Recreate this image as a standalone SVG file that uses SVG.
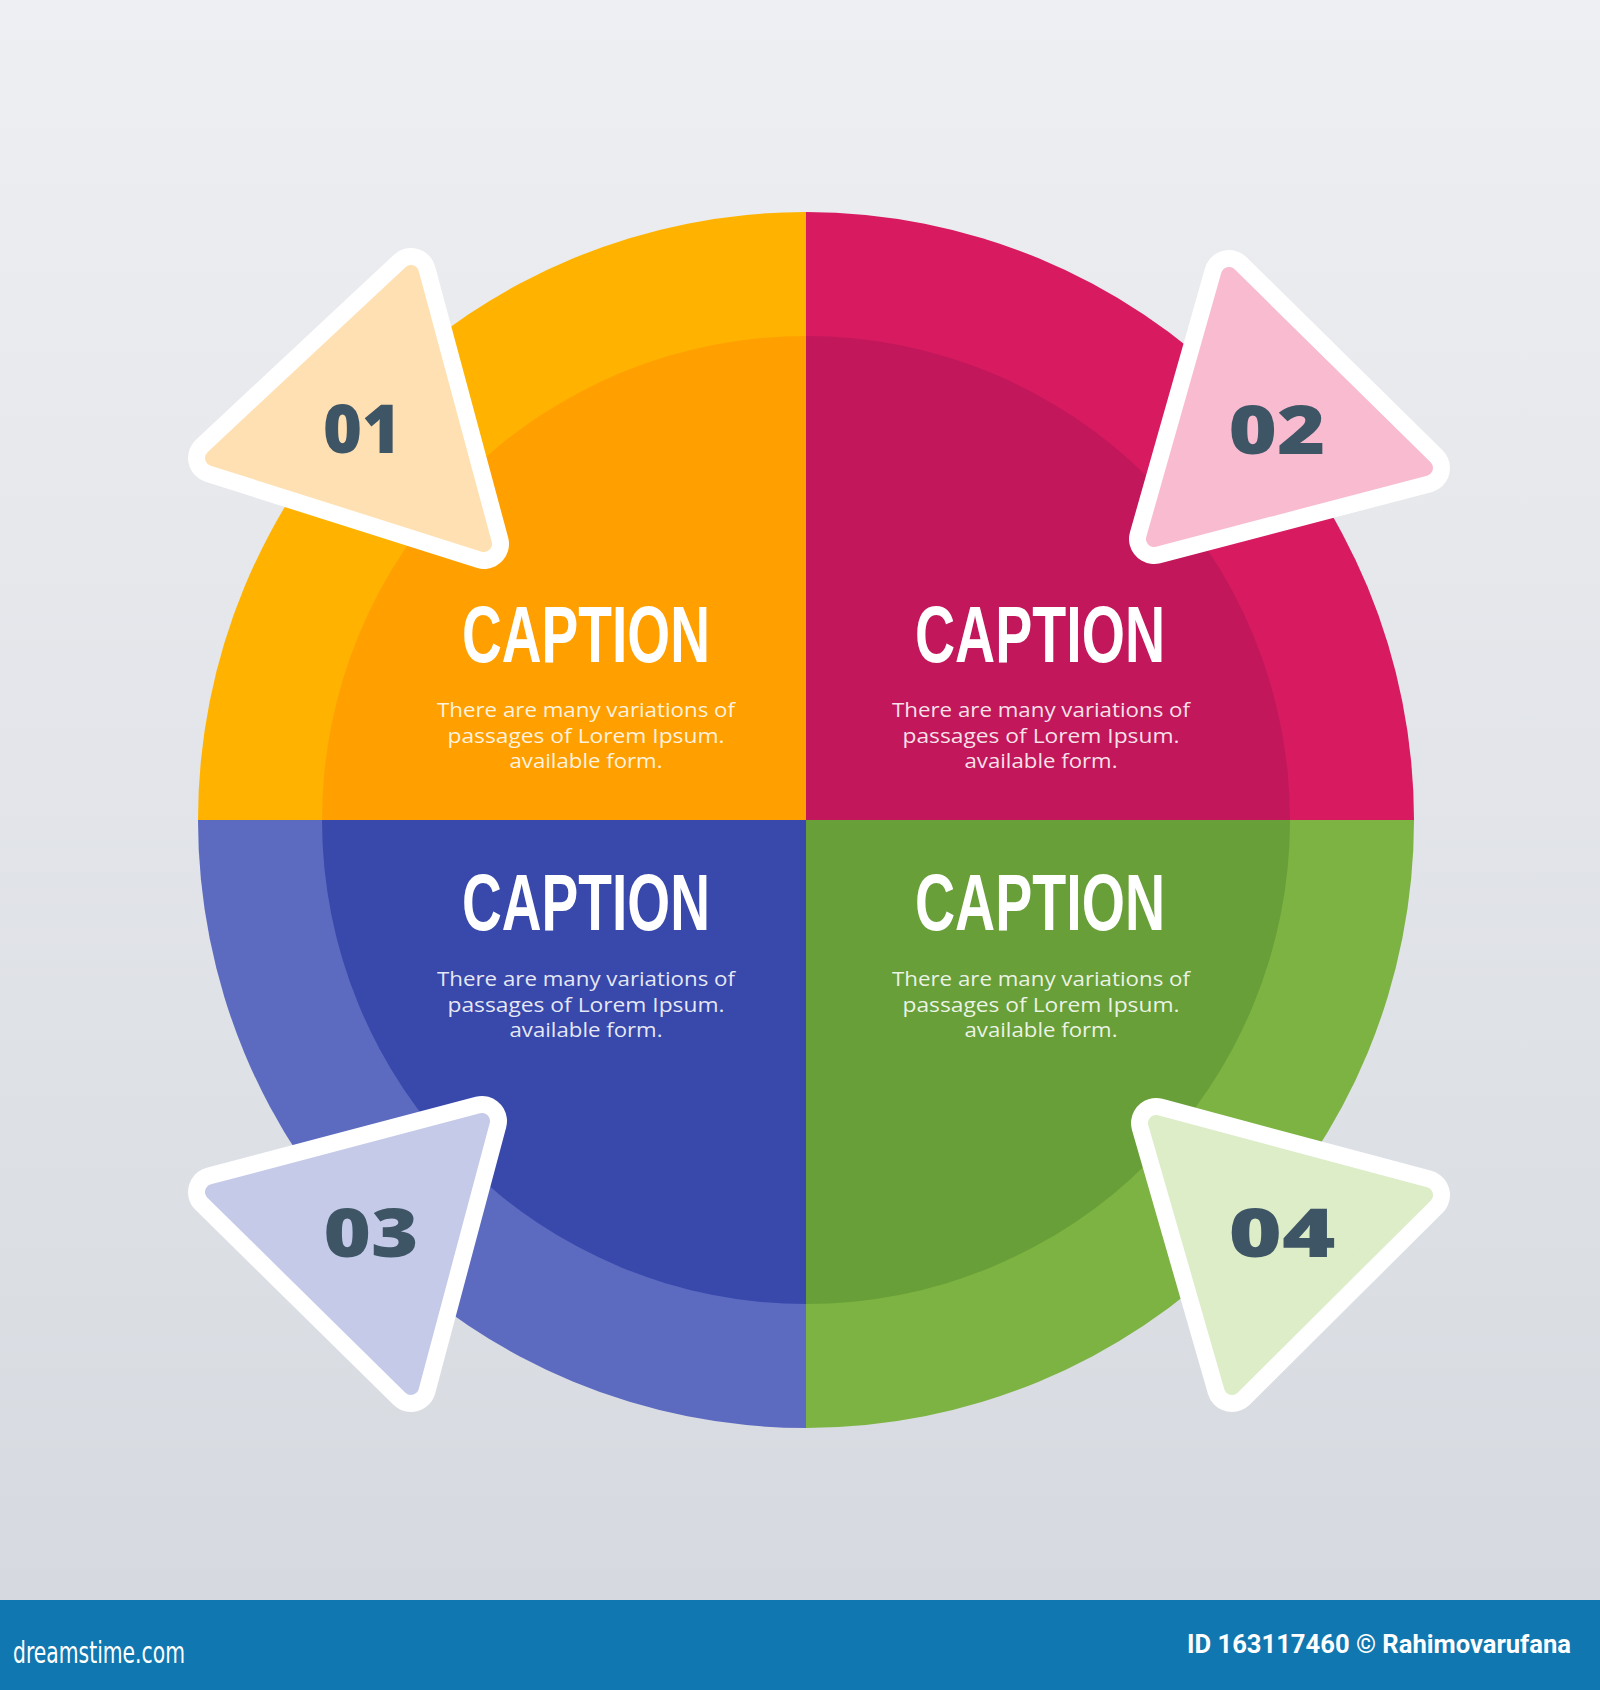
<svg xmlns="http://www.w3.org/2000/svg" width="1600" height="1690" viewBox="0 0 1600 1690">
  <defs>
    <linearGradient id="bg" x1="0" y1="0" x2="0" y2="1">
      <stop offset="0" stop-color="#EEEFF2"/>
      <stop offset="1" stop-color="#D6DAE0"/>
    </linearGradient>
  </defs>
  <style>
    .cap { font-family: "Liberation Sans", Arial, sans-serif; font-weight: 700; font-size: 80px; fill: #FFFFFF; text-anchor: middle; }
    .body { font-family: "Open Sans", "Liberation Sans", sans-serif; font-size: 20px; fill: #FFFFFF; fill-opacity: 0.88; text-anchor: middle; }
    .num { font-family: "Open Sans", "Liberation Sans", sans-serif; font-weight: 800; font-size: 68px; fill: #3E5565; text-anchor: middle; }
    .tri-border { fill: #FFFFFF; stroke: #FFFFFF; stroke-width: 50; stroke-linejoin: round; }
    .tri-fill { stroke-width: 16; stroke-linejoin: round; }
  </style>

  <rect x="0" y="0" width="1600" height="1600" fill="url(#bg)"/>

  <!-- Quadrant nodes -->
  <g id="node-q1">
    <path d="M806,820 L198,820 A608,608 0 0 1 806,212 Z" fill="#FFB300"/>
    <path d="M806,820 L322,820 A484,484 0 0 1 806,336 Z" fill="#FFA000"/>
    <text class="cap" x="586" y="662" textLength="248" lengthAdjust="spacingAndGlyphs">CAPTION</text>
    <text class="body" x="586" y="717" textLength="298" lengthAdjust="spacingAndGlyphs">There are many variations of</text>
    <text class="body" x="586" y="743" textLength="277" lengthAdjust="spacingAndGlyphs">passages of Lorem Ipsum.</text>
    <text class="body" x="586" y="768" textLength="153" lengthAdjust="spacingAndGlyphs">available form.</text>
  </g>
  <g id="node-q2">
    <path d="M806,820 L806,212 A608,608 0 0 1 1414,820 Z" fill="#D81B60"/>
    <path d="M806,820 L806,336 A484,484 0 0 1 1290,820 Z" fill="#C2185B"/>
    <text class="cap" x="1040" y="662" textLength="250" lengthAdjust="spacingAndGlyphs">CAPTION</text>
    <text class="body" x="1041" y="717" textLength="298" lengthAdjust="spacingAndGlyphs">There are many variations of</text>
    <text class="body" x="1041" y="743" textLength="277" lengthAdjust="spacingAndGlyphs">passages of Lorem Ipsum.</text>
    <text class="body" x="1041" y="768" textLength="153" lengthAdjust="spacingAndGlyphs">available form.</text>
  </g>
  <g id="node-q3">
    <path d="M806,820 L806,1428 A608,608 0 0 1 198,820 Z" fill="#5C6BC0"/>
    <path d="M806,820 L806,1304 A484,484 0 0 1 322,820 Z" fill="#3949AB"/>
    <text class="cap" x="586" y="930" textLength="248" lengthAdjust="spacingAndGlyphs">CAPTION</text>
    <text class="body" x="586" y="986" textLength="298" lengthAdjust="spacingAndGlyphs">There are many variations of</text>
    <text class="body" x="586" y="1012" textLength="277" lengthAdjust="spacingAndGlyphs">passages of Lorem Ipsum.</text>
    <text class="body" x="586" y="1037" textLength="153" lengthAdjust="spacingAndGlyphs">available form.</text>
  </g>
  <g id="node-q4">
    <path d="M806,820 L1414,820 A608,608 0 0 1 806,1428 Z" fill="#7CB342"/>
    <path d="M806,820 L1290,820 A484,484 0 0 1 806,1304 Z" fill="#689F38"/>
    <text class="cap" x="1040" y="930" textLength="250" lengthAdjust="spacingAndGlyphs">CAPTION</text>
    <text class="body" x="1041" y="986" textLength="298" lengthAdjust="spacingAndGlyphs">There are many variations of</text>
    <text class="body" x="1041" y="1012" textLength="277" lengthAdjust="spacingAndGlyphs">passages of Lorem Ipsum.</text>
    <text class="body" x="1041" y="1037" textLength="153" lengthAdjust="spacingAndGlyphs">available form.</text>
  </g>

  <!-- Triangle nodes -->
  <g id="node-01">
    <polygon class="tri-border" points="411,273 213,458 484,544"/>
    <polygon class="tri-fill" points="411,273 213,458 484,544" fill="#FFE0B2" stroke="#FFE0B2"/>
    <text class="num" x="362" y="453" textLength="78" lengthAdjust="spacingAndGlyphs">01</text>
  </g>
  <g id="node-02">
    <polygon class="tri-border" points="1229,275 1425,468 1154,539"/>
    <polygon class="tri-fill" points="1229,275 1425,468 1154,539" fill="#F8BBD0" stroke="#F8BBD0"/>
    <text class="num" x="1277" y="454" textLength="97" lengthAdjust="spacingAndGlyphs">02</text>
  </g>
  <g id="node-03">
    <polygon class="tri-border" points="482,1121 213,1192 411,1387"/>
    <polygon class="tri-fill" points="482,1121 213,1192 411,1387" fill="#C5CAE9" stroke="#C5CAE9"/>
    <text class="num" x="371" y="1257" textLength="95" lengthAdjust="spacingAndGlyphs">03</text>
  </g>
  <g id="node-04">
    <polygon class="tri-border" points="1156,1123 1425,1195 1232,1387"/>
    <polygon class="tri-fill" points="1156,1123 1425,1195 1232,1387" fill="#DCEDC8" stroke="#DCEDC8"/>
    <text class="num" x="1282" y="1257" textLength="107" lengthAdjust="spacingAndGlyphs">04</text>
  </g>

  <g id="connectors"/>

  <!-- Footer bar -->
  <g id="footer">
    <rect x="0" y="1600" width="1600" height="90" fill="#1077B0"/>
    <text x="13" y="1663" font-family="'DejaVu Sans', sans-serif" font-size="30" fill="#FFFFFF" textLength="172" lengthAdjust="spacingAndGlyphs">dreamstime.com</text>
    <text x="1187" y="1653" font-family="Roboto, 'Liberation Sans', sans-serif" font-weight="700" font-size="25" fill="#FFFFFF" textLength="384" lengthAdjust="spacingAndGlyphs">ID 163117460 © Rahimovarufana</text>
  </g>
</svg>
